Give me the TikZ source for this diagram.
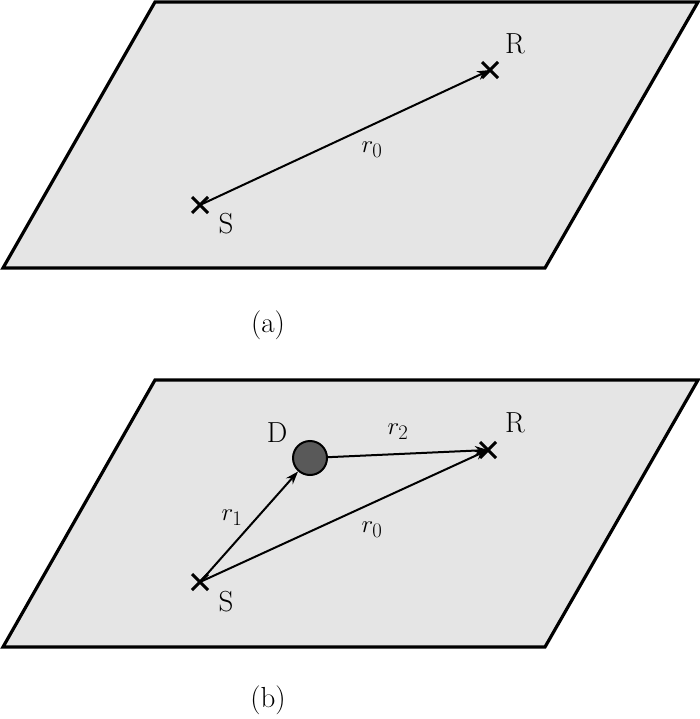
\documentclass[tikz,border=0pt]{standalone}
\usetikzlibrary{arrows.meta,calc}
\begin{document}
\begin{tikzpicture}[x=1pt,y=-1pt,
  plane/.style={draw=black,line width=3.2pt,fill=black!10,line join=miter},
  vec/.style={line width=2pt,-{Stealth[length=13pt,width=9pt]}},
  lab/.style={font=\fontsize{29}{34}\selectfont,inner sep=0pt},
  crs/.style={line width=3pt}]
\useasboundingbox (0,0) rectangle (700,719);
% (a)
\draw[plane] (155,2) -- (698,2) -- (545,268) -- (3,268) -- cycle;
\coordinate (Sa) at (200,205); \coordinate (Ra) at (490,70);
\draw[vec] (Sa) -- (Ra);
\foreach \p in {Sa,Ra}{\draw[crs] ($(\p)+(-8,-8)$) -- ($(\p)+(8,8)$) ($(\p)+(-8,8)$) -- ($(\p)+(8,-8)$);}
\node[lab] (lSa) at (226,224) {S};
\node[lab] (lRa) at (515,44) {R};
\node[lab] (r0a) at (372,150) {$r_0$};
\node[lab] (ca) at (268,325) {(a)};
% (b)
\draw[plane] (155,380) -- (698,380) -- (545,647) -- (3,647) -- cycle;
\coordinate (Sb) at (200,582); \coordinate (Rb) at (488,450);
\node[circle,draw=black,line width=2pt,fill=black!65,minimum size=34pt,inner sep=0pt] (D) at (310,458) {};
\draw[vec] (Sb) -- (D);
\draw[vec] (D) -- (Rb);
\draw[vec] (Sb) -- (Rb);
\foreach \p in {Sb,Rb}{\draw[crs] ($(\p)+(-8,-8)$) -- ($(\p)+(8,8)$) ($(\p)+(-8,8)$) -- ($(\p)+(8,-8)$);}
\node[lab] (lSb) at (226,602) {S};
\node[lab] (lRb) at (515,423) {R};
\node[lab] (lD) at (277,433) {D};
\node[lab] (r2) at (398,432) {$r_2$};
\node[lab] (r1) at (232,518) {$r_1$};
\node[lab] (r0b) at (372,530) {$r_0$};
\node[lab] (cb) at (268,700) {(b)};
\end{tikzpicture}
\end{document}
